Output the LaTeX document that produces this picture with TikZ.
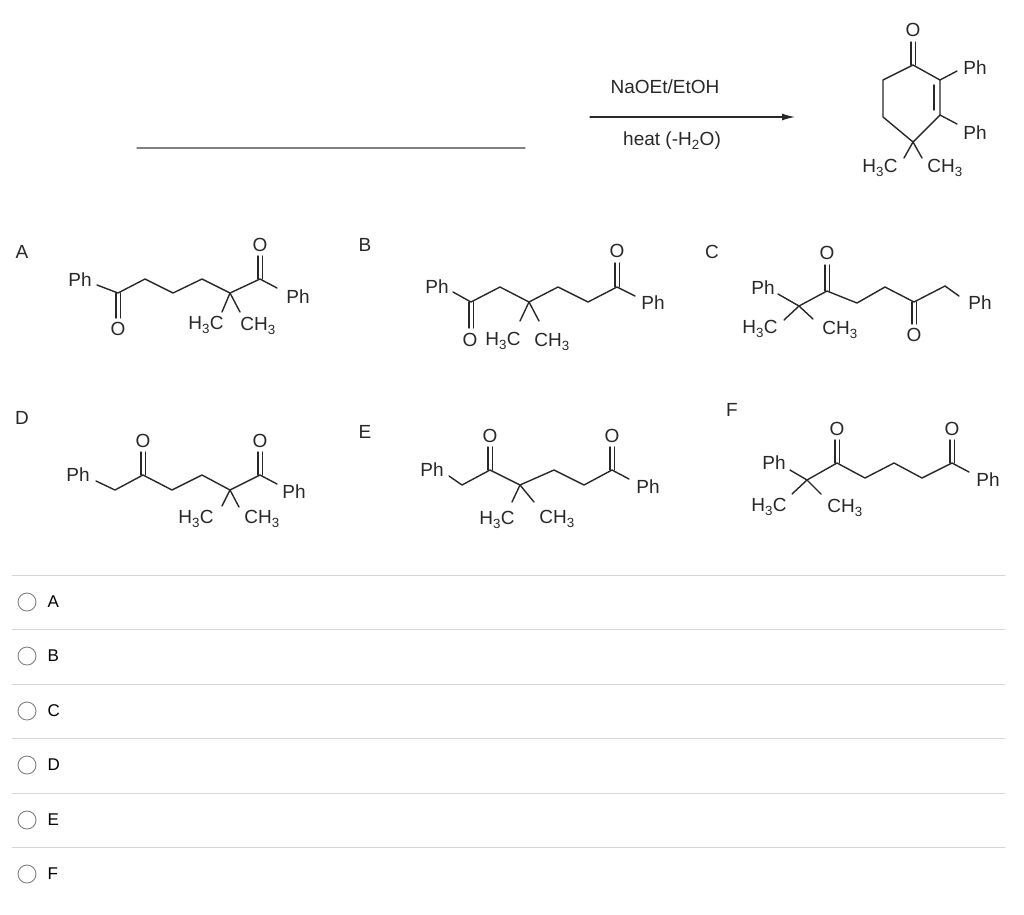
\documentclass[tikz,border=0pt]{standalone}
\usepackage{fontspec}
\setmainfont{Liberation Sans}
\usetikzlibrary{arrows.meta}
\begin{document}
\newcommand{\dbv}[3]{\draw (#1-2.2,#2)--(#1-2.2,#3); \draw (#1+2.2,#2)--(#1+2.2,#3);}
\begin{tikzpicture}[x=1pt,y=-1pt,line width=1.4pt,line cap=round,line join=round,color={rgb,255:red,40;green,40;blue,40},
  lab/.style={inner sep=0pt,font=\fontsize{19}{21}\selectfont},
  opt/.style={inner sep=0pt,font=\fontsize{17}{20}\selectfont,anchor=west},
  sep/.style={draw={rgb,255:red,215;green,215;blue,215},line width=1pt}]
\useasboundingbox (0,0) rectangle (1024,914);
% reaction
\draw[line width=1.2pt,gray] (137,148)--(525,148);
\node[lab] (r1) at (665,87) {NaOEt/EtOH};
\node[lab] (r2) at (672,141) {heat (-H\textsubscript{2}O)};
\draw[line width=1.2pt,-{Latex[length=13pt,width=7pt]}] (590,117)--(795,117);
% product
\draw (913,65)--(940,80)--(940,115)--(913,142)--(883,117)--(883,80)--cycle;
\draw (934,85)--(934,110);
\dbv{913}{65}{42}
\node[lab] at (913,30) {O};
\draw (940,80)--(957,71); \node[lab] at (975,68) {Ph};
\draw (940,115)--(957,124); \node[lab] at (975,133) {Ph};
\draw (913,142)--(904,158); \draw (913,142)--(922,158);
\node[lab] at (880,168) {H\textsubscript{3}C};
\node[lab] at (945,168) {CH\textsubscript{3}};
% labels
\node[lab] at (22,252) {A}; \node[lab] at (365,245) {B}; \node[lab] at (712,252) {C};
\node[lab] at (22,418) {D}; \node[lab] at (365,432) {E}; \node[lab] at (732,410) {F};
% A
\node[lab] at (80,280) {Ph};
\draw (97,285)--(118,293)--(145,279)--(173,293)--(202,279)--(230,293)--(260,279)--(277,288);
\node[lab] at (298,297) {Ph};
\dbv{118}{293}{318} \node[lab] at (118,329) {O};
\dbv{260}{279}{256} \node[lab] at (260,245) {O};
\draw (230,293)--(222,312); \draw (230,293)--(240,312);
\node[lab] at (206,325) {H\textsubscript{3}C}; \node[lab] at (258,326) {CH\textsubscript{3}};
% B
\node[lab] at (437,287) {Ph};
\draw (453,292)--(471,302)--(500,287)--(529,302)--(558,287)--(588,302)--(617,287)--(635,296);
\node[lab] at (653,303) {Ph};
\dbv{471}{302}{328} \node[lab] at (470,340) {O};
\dbv{617}{287}{263} \node[lab] at (617,251) {O};
\draw (529,302)--(520,321); \draw (529,302)--(539,321);
\node[lab] at (503,341) {H\textsubscript{3}C}; \node[lab] at (552,342) {CH\textsubscript{3}};
% C
\node[lab] at (763,288) {Ph};
\draw (778,294)--(799,306)--(827,291)--(857,303)--(885,287)--(914,302)--(945,286)--(959,296);
\node[lab] at (980,303) {Ph};
\draw (799,306)--(784,320); \draw (799,306)--(813,319);
\node[lab] at (760,329) {H\textsubscript{3}C}; \node[lab] at (840,330) {CH\textsubscript{3}};
\dbv{827}{291}{265} \node[lab] at (827,253) {O};
\dbv{914}{302}{324} \node[lab] at (914,335) {O};
% D
\node[lab] at (78,475) {Ph};
\draw (96,481)--(115,490)--(143,475)--(172,490)--(202,475)--(230,490)--(260,475)--(277,484);
\node[lab] at (294,492) {Ph};
\dbv{143}{475}{452} \node[lab] at (143,441) {O};
\dbv{260}{475}{452} \node[lab] at (260,441) {O};
\draw (230,490)--(222,506); \draw (230,490)--(239,507);
\node[lab] at (196,519) {H\textsubscript{3}C}; \node[lab] at (262,519) {CH\textsubscript{3}};
% E
\node[lab] at (432,470) {Ph};
\draw (449,476)--(462,485)--(490,470)--(520,485)--(554,470)--(584,485)--(612,470)--(629,479);
\node[lab] at (648,487) {Ph};
\dbv{490}{470}{447} \node[lab] at (490,436) {O};
\dbv{612}{470}{447} \node[lab] at (612,436) {O};
\draw (520,485)--(512,502); \draw (520,485)--(534,502);
\node[lab] at (497,520) {H\textsubscript{3}C}; \node[lab] at (557,519) {CH\textsubscript{3}};
% F
\node[lab] at (774,463) {Ph};
\draw (790,470)--(807,480)--(837,463)--(865,478)--(894,463)--(922,478)--(952,463)--(969,472);
\node[lab] at (988,480) {Ph};
\dbv{837}{463}{440} \node[lab] at (837,429) {O};
\dbv{952}{463}{440} \node[lab] at (952,429) {O};
\draw (807,480)--(792,494); \draw (807,480)--(821,494);
\node[lab] at (769,507) {H\textsubscript{3}C}; \node[lab] at (845,508) {CH\textsubscript{3}};
% options
\foreach \y in {575,629,684,738,793,847} \draw[sep] (12,\y)--(1005,\y);
\foreach \y/\t in {602/A,656/B,711/C,765/D,820/E,874/F}{
  \draw[line width=0.9pt,gray] (27,\y) circle (9);
  \node[opt,color=black] at (47,\y) {\t};}
\end{tikzpicture}
\end{document}
